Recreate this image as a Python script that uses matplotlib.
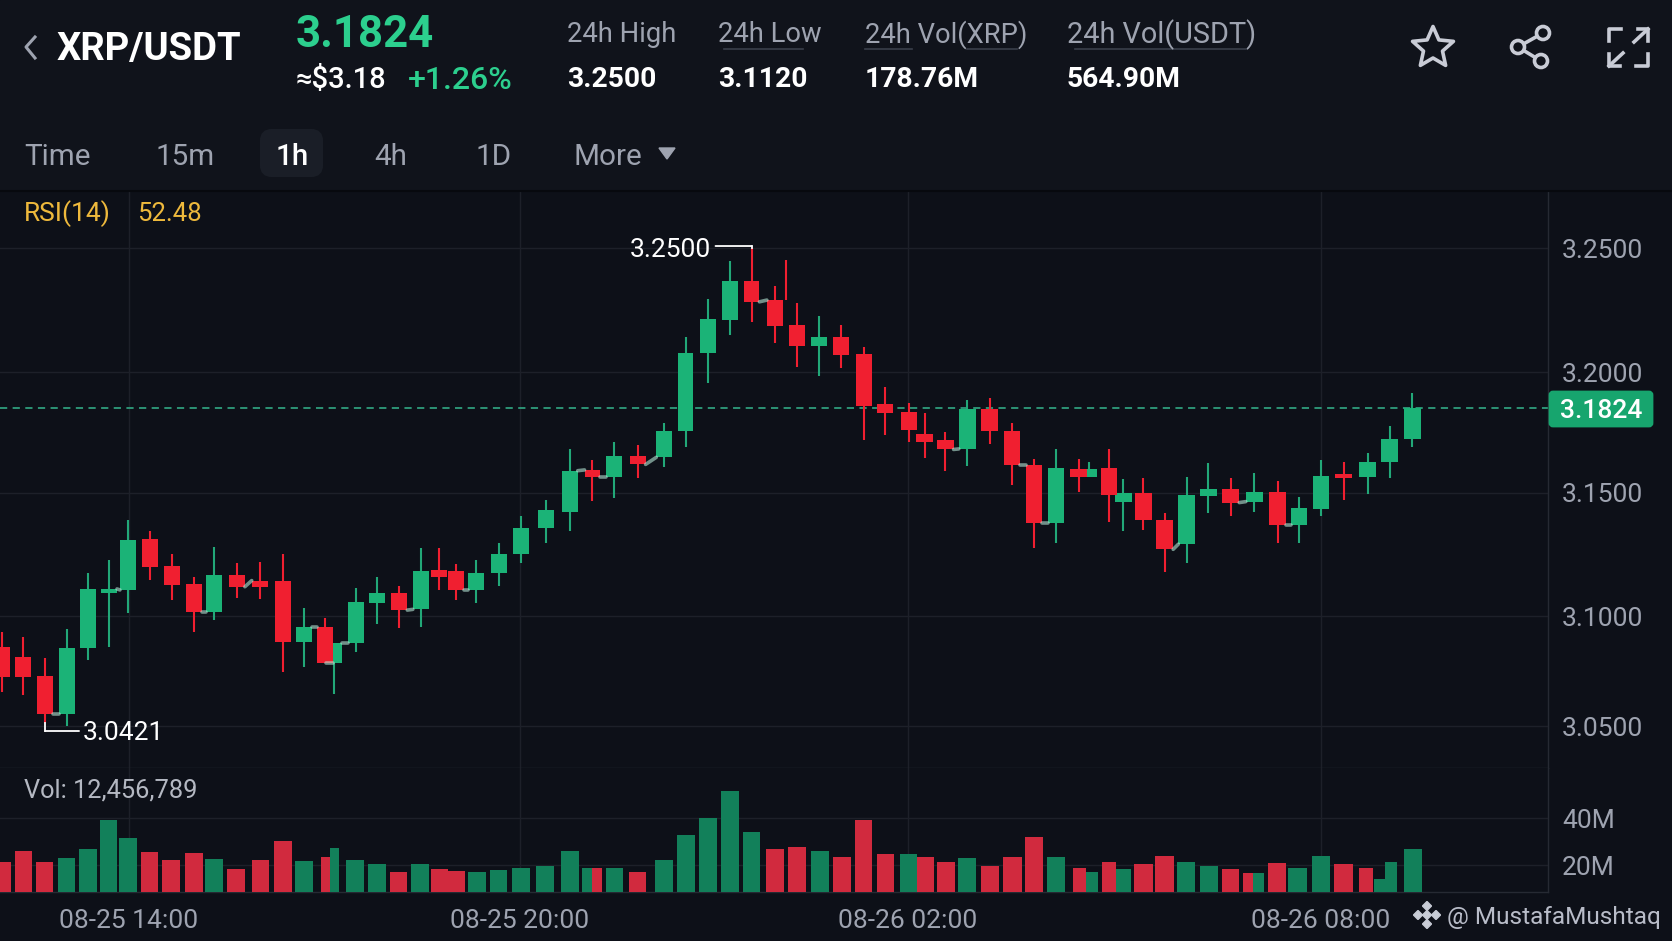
import numpy as np
import matplotlib
matplotlib.use("Agg")
import matplotlib.pyplot as plt
from matplotlib.patches import Polygon, Circle, FancyBboxPatch, Rectangle

plt.rcParams['font.family'] = ['Roboto', 'DejaVu Sans']

# hours counted from 08-25 14:00
candle_hours = [-1.94, -1.62, -1.28, -0.95, -0.62, -0.30, -0.01, 0.33, 0.66, 1.01, 1.31, 1.66, 2.01, 2.36, 2.69, 3.01, 3.15,
                3.49, 3.81, 4.15, 4.48, 4.76, 5.02, 5.33, 5.68, 6.02, 6.40, 6.77, 7.12, 7.46, 7.82, 8.23, 8.56, 8.91,
                9.25, 9.58, 9.94, 10.28, 10.63, 10.97, 11.32, 11.65, 12.01, 12.24, 12.54, 12.86, 13.19, 13.51, 13.83,
                14.15, 14.48, 14.63, 14.92, 15.13, 15.42, 15.73, 16.05, 16.36, 16.69, 17.03, 17.37, 17.68, 18.00,
                18.33, 18.68, 19.00, 19.33]
opens = [3.0861, 3.0813, 3.0729, 3.0553, 3.0853, 3.1095, 3.1106, 3.1312, 3.1204, 3.1129, 3.1018, 3.1168, 3.1144, 3.1144,
         3.0883, 3.0948, 3.0788, 3.0876, 3.1054, 3.1095, 3.1027, 3.1187, 3.1184, 3.1106, 3.1174, 3.1251, 3.1357,
         3.1424, 3.1588, 3.1560, 3.1641, 3.1636, 3.1737, 3.2078, 3.2210, 3.2368, 3.2290, 3.2191, 3.2106, 3.2142,
         3.2071, 3.1842, 3.1809, 3.1724, 3.1702, 3.1668, 3.1820, 3.1736, 3.1607, 3.1377, 3.1591, 3.1560, 3.1594,
         3.1465, 3.1501, 3.1391, 3.1292, 3.1489, 3.1514, 3.1465, 3.1505, 3.1370, 3.1434, 3.1571, 3.1562, 3.1619, 3.1705]
closes = [3.0724, 3.0724, 3.0553, 3.0856, 3.1109, 3.1110, 3.1309, 3.1201, 3.1126, 3.1018, 3.1168, 3.1119, 3.1119, 3.0881,
          3.0948, 3.0788, 3.0876, 3.1056, 3.1095, 3.1024, 3.1184, 3.1160, 3.1106, 3.1174, 3.1252, 3.1357, 3.1429,
          3.1585, 3.1560, 3.1641, 3.1609, 3.1737, 3.2078, 3.2212, 3.2366, 3.2283, 3.2185, 3.2106, 3.2140, 3.2069,
          3.1835, 3.1806, 3.1740, 3.1695, 3.1666, 3.1820, 3.1735, 3.1607, 3.1377, 3.1594, 3.1560, 3.1591, 3.1492,
          3.1501, 3.1391, 3.1271, 3.1492, 3.1517, 3.1461, 3.1503, 3.1370, 3.1438, 3.1566, 3.1556, 3.1619, 3.1706, 3.1824]
highs = [3.0929, 3.0906, 3.0808, 3.0940, 3.1176, 3.1228, 3.1391, 3.1347, 3.1251, 3.1160, 3.1282, 3.1217, 3.1221, 3.1252,
         3.1031, 3.0991, 3.0876, 3.1115, 3.1160, 3.1122, 3.1278, 3.1278, 3.1212, 3.1228, 3.1296, 3.1407, 3.1472,
         3.1666, 3.1626, 3.1695, 3.1683, 3.1767, 3.2142, 3.2294, 3.2449, 3.2500, 3.2348, 3.2277, 3.2226, 3.2189,
         3.2102, 3.1925, 3.1850, 3.1806, 3.1731, 3.1863, 3.1871, 3.1768, 3.1628, 3.1666, 3.1628, 3.1619, 3.1666,
         3.1553, 3.1558, 3.1418, 3.1560, 3.1615, 3.1556, 3.1575, 3.1547, 3.1483, 3.1626, 3.1619, 3.1654, 3.1755, 3.1899]
lows = [3.0656, 3.0641, 3.0512, 3.0497, 3.0800, 3.0861, 3.1011, 3.1147, 3.1065, 3.0926, 3.0982, 3.1072, 3.1068, 3.0747,
        3.0770, 3.0785, 3.0644, 3.0838, 3.0964, 3.0944, 3.0948, 3.1106, 3.1065, 3.1054, 3.1122, 3.1217, 3.1296,
        3.1346, 3.1467, 3.1478, 3.1556, 3.1600, 3.1676, 3.1948, 3.2149, 3.2203, 3.2118, 3.2021, 3.1980, 3.2017,
        3.1702, 3.1721, 3.1695, 3.1632, 3.1585, 3.1604, 3.1687, 3.1530, 3.1276, 3.1298, 3.1505, 3.1560, 3.1384,
        3.1347, 3.1350, 3.1180, 3.1214, 3.1418, 3.1407, 3.1424, 3.1298, 3.1296, 3.1407, 3.1472, 3.1496, 3.1556, 3.1676]
# the second upper wick on the red candle right after the top
extra_wick_hour = 10.12
extra_wick_top = 3.2451
extra_wick_bottom = 3.2290
# candles whose close is smeared across to the next one in the picture
smeared = [2, 5, 9, 11, 14, 15, 16, 19, 22, 27, 28, 30, 35, 44, 47, 48, 55, 58, 60]

vol_hours = [-1.93, -1.61, -1.29, -0.95, -0.62, -0.31, -0.01, 0.32, 0.65, 1.00, 1.31, 1.65, 2.02, 2.37, 2.69, 3.02, 3.16,
             3.47, 3.81, 4.14, 4.47, 4.77, 5.03, 5.34, 5.67, 6.02, 6.39, 6.77, 7.04, 7.19, 7.46, 7.82, 8.23, 8.57, 8.91,
             9.25, 9.58, 9.94, 10.28, 10.64, 10.98, 11.31, 11.65, 12.00, 12.25, 12.55, 12.86, 13.19, 13.52, 13.83,
             14.15, 14.49, 14.67, 14.92, 15.13, 15.42, 15.73, 16.04, 16.37, 16.69, 16.94, 17.09, 17.36, 17.66, 18.00,
             18.33, 18.65, 18.85, 19.02, 19.34]
vol_values = [21.4, 26.0, 21.1, 22.8, 26.7, 39.1, 31.6, 25.4, 22.1, 25.0, 22.4, 18.4, 22.1, 30.2, 21.7, 23.3, 27.1,
              22.3, 20.6, 17.0, 20.3, 18.4, 17.4, 17.0, 17.7, 18.6, 19.4, 25.8, 18.7, 18.7, 18.7, 17.2, 22.0, 32.8, 39.9,
              51.5, 33.9, 26.8, 27.5, 26.0, 23.5, 39.1, 24.7, 24.5, 23.3, 21.1, 22.8, 19.6, 23.4, 32.0,
              23.5, 18.6, 17.0, 21.3, 18.3, 20.4, 23.7, 21.3, 19.6, 18.2, 16.5, 16.5, 21.0, 18.8, 23.8,
              20.4, 18.7, 14.2, 21.2, 26.7]
vol_up = [0, 0, 0, 1, 1, 1, 1, 0, 0, 0, 1, 0, 0, 0, 1, 0, 1,
          1, 1, 0, 1, 0, 0, 1, 1, 1, 1, 1, 1, 0, 1, 0, 1, 1, 1,
          1, 1, 0, 0, 1, 0, 0, 0, 1, 0, 0, 1, 0, 0, 0,
          1, 0, 1, 0, 1, 0, 0, 1, 1, 0, 0, 1, 0, 1, 1,
          0, 0, 1, 1, 1]

price_ticks = [3.05, 3.10, 3.15, 3.20, 3.25]
vol_ticks = [20, 40]
time_ticks = [0, 6, 12, 18]
time_labels = ['08-25 14:00', '08-25 20:00', '08-26 02:00', '08-26 08:00']
last_price = 3.1824
high_price = 3.2500
low_price = 3.0421
high_hour = 9.58
low_hour = -1.28

BG = '#0d1018'
HEADER = '#10131b'
GRID = '#1d2029'
GREEN = '#1bb377'
RED = '#f01f30'
VGREEN = '#12805a'
VRED = '#d12a3e'
GRAY = '#9ea3b0'
W, H = 1672, 941
AX_R = 1548

# the picture's axes are not quite even, so the scales follow its gridlines
hour_pts = [-1.97, 0, 6, 12, 18, 21.3]
hour_px = [0, 128.6, 520, 908, 1321, AX_R]
price_pts = [3.00, 3.0421, 3.05, 3.10, 3.15, 3.1824, 3.20, 3.25, 3.273]
price_px = [768, 731, 726, 616, 493, 408, 372, 248, 191]
neg_px = [-p for p in price_px]


def hour_fwd(v):
    return np.interp(v, hour_pts, hour_px)


def hour_inv(v):
    return np.interp(v, hour_px, hour_pts)


def price_fwd(v):
    return np.interp(v, price_pts, neg_px)


def price_inv(v):
    return np.interp(v, neg_px, price_pts)


fig = plt.figure(figsize=(W / 100, H / 100), dpi=100, facecolor=BG)
ax = fig.add_axes([0, 1 - 768 / H, AX_R / W, (768 - 191) / H], facecolor=BG)
axv = fig.add_axes([0, 1 - 892 / H, AX_R / W, (892 - 768) / H], facecolor=BG)

ax.set_xscale('function', functions=(hour_fwd, hour_inv))
ax.set_yscale('function', functions=(price_fwd, price_inv))
axv.set_xscale('function', functions=(hour_fwd, hour_inv))
ax.set_xlim(-1.97, 21.3)
axv.set_xlim(-1.97, 21.3)
ax.set_ylim(3.00, 3.273)
axv.set_ylim(8.51, 61.3)

hours = np.array(candle_hours)
o = np.array(opens)
c = np.array(closes)
hi = np.array(highs)
lo = np.array(lows)
up = c >= o
body_w = 0.245

ax.vlines(hours[up], lo[up], hi[up], color='#22a878', lw=1.5, zorder=3)
ax.vlines(hours[~up], lo[~up], hi[~up], color=RED, lw=1.5, zorder=3)
ax.vlines(extra_wick_hour, extra_wick_bottom, extra_wick_top, color=RED, lw=1.5, zorder=3)
ax.bar(hours[up], (c - o)[up], bottom=o[up], width=body_w, color=GREEN, zorder=4)
ax.bar(hours[~up], (o - c)[~up], bottom=c[~up], width=body_w, color=RED, zorder=4)
for i in smeared:
    ax.plot([hours[i] + body_w / 2, hours[i + 1] - body_w / 2], [c[i], o[i + 1]], color='#b5e6d6',
            lw=2.6, alpha=0.6, solid_capstyle='round', zorder=5)
ax.axhline(last_price, color='#2f9d7c', lw=1.3, ls=(0, (4, 3)), zorder=2)

vh = np.array(vol_hours)
vv = np.array(vol_values)
vu = np.array(vol_up, dtype=bool)
gaps = np.diff(vh)
left_gap = np.r_[gaps[0], gaps]
right_gap = np.r_[gaps, gaps[-1]]
vw = np.minimum(0.27, np.minimum(left_gap, right_gap))
axv.bar(vh[vu], vv[vu], width=vw[vu], color=VGREEN, zorder=3)
axv.bar(vh[~vu], vv[~vu], width=vw[~vu], color=VRED, zorder=3)

for a in (ax, axv):
    a.grid(True, color=GRID, lw=1)
    a.set_axisbelow(True)
    for s in ('left', 'top'):
        a.spines[s].set_visible(False)
    a.spines['right'].set_color('#262a33')
    a.spines['bottom'].set_color('#262a33')
    a.spines['right'].set_linewidth(1)
    a.spines['bottom'].set_linewidth(1)
    a.yaxis.tick_right()
    a.set_xticks(time_ticks)

ax.set_yticks(price_ticks)
ax.set_yticklabels(['%.4f' % p for p in price_ticks])
ax.tick_params(axis='x', length=0, labelbottom=False)
ax.tick_params(axis='y', length=0, pad=10, labelsize=19, labelcolor=GRAY)
axv.set_yticks(vol_ticks)
axv.set_yticklabels(['%dM' % v for v in vol_ticks])
axv.set_xticklabels(time_labels)
axv.tick_params(axis='x', length=0, pad=12, labelsize=19, labelcolor=GRAY)
axv.tick_params(axis='y', length=0, pad=10, labelsize=19, labelcolor=GRAY)

# high / low markers
ax.annotate('%.4f' % high_price, xy=(high_hour, high_price), xytext=(-41, -2), textcoords='offset pixels',
            color='white', fontsize=19, ha='right', va='center', zorder=6)
ax.annotate('%.4f' % low_price, xy=(low_hour, low_price), xytext=(38, -2), textcoords='offset pixels',
            color='white', fontsize=19, ha='left', va='center', zorder=6)
ax.plot([high_hour, high_hour], [high_price, high_price + 0.0008], color='white', lw=1.3, zorder=6)
ax.annotate('', xy=(high_hour, high_price + 0.0008), xytext=(-36, 0), textcoords='offset pixels',
            arrowprops=dict(arrowstyle='-', color='white', lw=1.3, shrinkA=0, shrinkB=0), zorder=6)
ax.plot([low_hour, low_hour], [low_price, 3.0512], color='white', lw=1.3, zorder=6)
ax.annotate('', xy=(low_hour, low_price), xytext=(34, 0), textcoords='offset pixels',
            arrowprops=dict(arrowstyle='-', color='white', lw=1.3, shrinkA=0, shrinkB=0), zorder=6)

# header and toolbar, in picture pixels
ui = fig.add_axes([0, 0, 1, 1], facecolor='none', zorder=5)
ui.set_xlim(0, W)
ui.set_ylim(H, 0)
ui.axis('off')
ui.add_patch(Rectangle((0, 0), W, 190, color=HEADER, zorder=0))
ui.plot([0, W], [191, 191], color='#07090e', lw=1.5, zorder=1)
ui.add_patch(FancyBboxPatch((262, 131), 59, 44, boxstyle='round,pad=0,rounding_size=10',
                            fc='#1a1e27', ec='#1a1e27', lw=3, zorder=1))


def label(x, y, s, color='white', size=20, weight='normal', ha='left'):
    ui.text(x, y, s, color=color, fontsize=size, fontweight=weight, ha=ha, va='center_baseline', zorder=6)


ui.plot([35, 26, 35], [37, 47, 58], color=GRAY, lw=2.2, zorder=6)
label(57, 45, 'XRP/USDT', size=27.5, weight='bold')
label(296, 30, '3.1824', color='#2ccf8e', size=31.5, weight='bold')
label(296, 77, '≈$3.18', size=21, weight='medium')
label(408, 77, '+1.26%', color='#2ccf8e', size=23, weight='medium')

stat_names = ['24h High', '24h Low', '24h Vol(XRP)', '24h Vol(USDT)']
stat_values = ['3.2500', '3.1120', '178.76M', '564.90M']
stat_x = [567, 718, 865, 1067]
stat_size = [19.7, 19.7, 19.7, 20.8]
for x, name, val, sz in zip(stat_x, stat_names, stat_values, stat_size):
    label(x, 31, name, color=GRAY, size=sz)
    label(x, 76, val, size=20.3, weight='bold')
for x0, x1 in [(724, 803), (865, 912), (967, 1017), (1075, 1246)]:
    ui.plot([x0, x1], [49, 49], color='#3a3f4b', lw=1.2, zorder=5)

label(24, 154, 'Time', color=GRAY, size=21.3)
label(155, 154, '15m', color=GRAY, size=21.3)
label(292, 154, '1h', size=21.3, weight='medium', ha='center')
label(374, 154, '4h', color=GRAY, size=21.3)
label(475, 154, '1D', color=GRAY, size=21.3)
label(573, 154, 'More', color=GRAY, size=21.3)
ui.add_patch(Polygon([[659, 148], [675, 148], [667, 159]], color=GRAY, zorder=6))
label(24, 211, 'RSI(14)', color='#eeb93c', size=19)
label(137, 211, '52.48', color='#eeb93c', size=18.5)
label(24, 788, 'Vol: 12,456,789', color='#b4b8c2', size=18.3)

# price tag on the axis
ui.add_patch(FancyBboxPatch((1550, 392), 102, 34, boxstyle='round,pad=0,rounding_size=3',
                            fc='#17a56e', ec='#17a56e', lw=2, zorder=6))
label(1601, 409, '3.1824', size=19, weight='medium', ha='center')

# star
ang = np.pi / 2 + np.arange(10) * np.pi / 5
rad = np.where(np.arange(10) % 2 == 0, 21.5, 10)
ui.add_patch(Polygon(np.c_[1433 + rad * np.cos(ang), 48 - rad * np.sin(ang)], closed=True, fill=False,
                     ec='#c9ccd6', lw=2.6, joinstyle='round', zorder=6))
# share
ui.plot([1543, 1518, 1541], [33, 47, 61], color='#c9ccd6', lw=2.6, zorder=6)
for cx, cy in [(1543, 33), (1518, 47), (1541, 61)]:
    ui.add_patch(Circle((cx, cy), 6.5, fc=HEADER, ec='#c9ccd6', lw=2.6, zorder=7))
# expand
for xs, ys in [([1609, 1609, 1621], [41, 29, 29]), ([1648, 1648, 1636], [54, 66, 66]),
               ([1638, 1648, 1648], [29, 29, 41]), ([1634, 1648], [42, 29]),
               ([1609, 1609, 1620], [54, 66, 66]), ([1623, 1609], [53, 66])]:
    ui.plot(xs, ys, color='#c9ccd6', lw=2.6, zorder=6)

# watermark
for dx, dy in [(0, -9), (-9, 0), (9, 0), (0, 9), (0, 0)]:
    cx, cy = 1427 + dx, 915 + dy
    ui.add_patch(Polygon([[cx, cy - 4.5], [cx + 4.5, cy], [cx, cy + 4.5], [cx - 4.5, cy]], color='#c8ccd6', zorder=6))
label(1447, 915, '@ MustafaMushtaq', color='#b8bcc8', size=17.6)

fig.savefig('out.png', dpi=100, facecolor=BG)
